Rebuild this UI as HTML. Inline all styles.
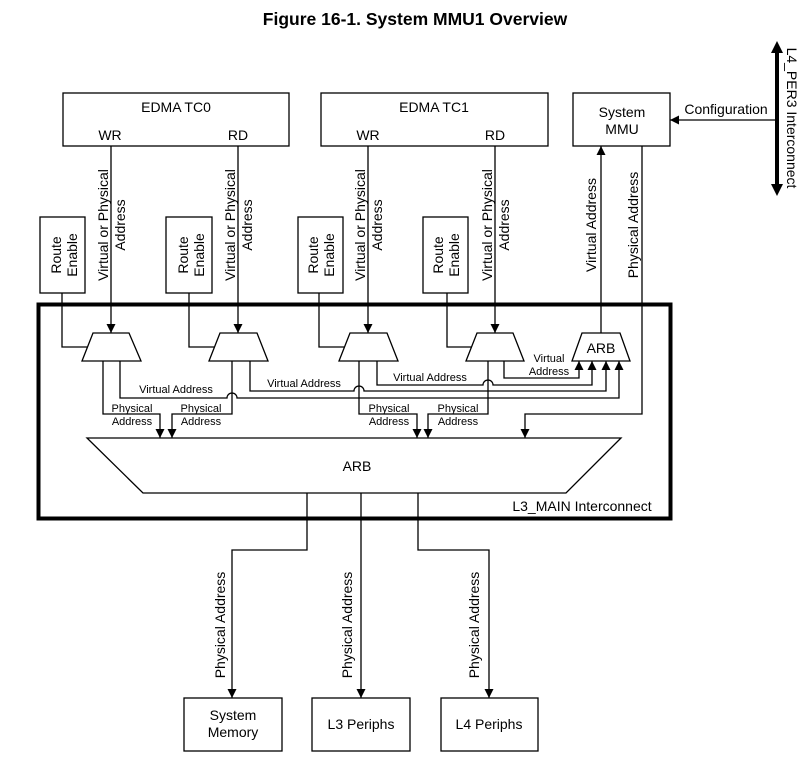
<!DOCTYPE html>
<html><head><meta charset="utf-8"><style>
html,body{margin:0;padding:0;background:#fff}
svg{display:block}
text{font-family:"Liberation Sans",Arial,sans-serif;fill:#000}
</style></head><body>
<svg width="810" height="776" viewBox="0 0 810 776" xmlns="http://www.w3.org/2000/svg">
<defs>
<marker id="a" viewBox="0 0 10 10" refX="10" refY="5" markerWidth="9" markerHeight="9" markerUnits="userSpaceOnUse" orient="auto"><path d="M0,0 L10,5 L0,10 z" fill="#000"/></marker>
</defs>
<text x="415" y="25" font-size="17.5" font-weight="bold" text-anchor="middle">Figure 16-1. System MMU1 Overview</text>

<g fill="none" stroke="#000" stroke-width="1.3">
<rect x="63" y="93" width="226" height="53"/>
<rect x="321" y="93" width="227" height="53"/>
<rect x="573" y="93" width="97" height="53"/>
<rect x="40" y="217" width="45" height="76"/>
<rect x="166" y="217" width="46" height="76"/>
<rect x="298" y="217" width="45" height="76"/>
<rect x="423" y="217" width="45" height="76"/>
<rect x="38.5" y="304.5" width="632" height="214" stroke-width="4"/>
<polygon points="93,333 129,333 141,361 82,361"/>
<polygon points="220,333 257,333 268,361 209,361"/>
<polygon points="350,333 387,333 398,361 339,361"/>
<polygon points="477,333 513,333 524,361 466,361"/>
<polygon points="582,333 620,333 630,361 572,361"/>
<polygon points="87,438 621,438 566,493 143,493"/>
<rect x="184" y="698" width="98" height="53"/>
<rect x="312" y="698" width="98" height="53"/>
<rect x="441" y="698" width="97" height="53"/>

<line x1="111" y1="146" x2="111" y2="333" marker-end="url(#a)"/>
<line x1="238" y1="146" x2="238" y2="333" marker-end="url(#a)"/>
<line x1="368" y1="146" x2="368" y2="333" marker-end="url(#a)"/>
<line x1="495" y1="146" x2="495" y2="333" marker-end="url(#a)"/>
<polyline points="62,293 62,347 87,347"/>
<polyline points="189,293 189,347 214,347"/>
<polyline points="319,293 319,347 344,347"/>
<polyline points="447,293 447,347 471,347"/>
<line x1="601" y1="333" x2="601" y2="146" marker-end="url(#a)"/>
<polyline points="642,146 642,414 525,414 525,438" marker-end="url(#a)"/>
<line x1="777" y1="120" x2="670" y2="120" marker-end="url(#a)"/>

<polyline points="103,361 103,414 160,414 160,438" marker-end="url(#a)"/>
<polyline points="232,361 232,414 172,414 172,438" marker-end="url(#a)"/>
<polyline points="359,361 359,414 417,414 417,438" marker-end="url(#a)"/>
<polyline points="488,361 488,414 428,414 428,438" marker-end="url(#a)"/>
<path d="M120,361 V398 H227 A5,5 0 0 1 237,398 H619 V361" marker-end="url(#a)"/>
<path d="M250,361 V391 H354 A5,5 0 0 1 364,391 H606 V361" marker-end="url(#a)"/>
<path d="M377,361 V385 H483 A5,5 0 0 1 493,385 H592 V361" marker-end="url(#a)"/>
<polyline points="504,361 504,378 579,378 579,361" marker-end="url(#a)"/>

<polyline points="307,493 307,550 232,550 232,698" marker-end="url(#a)"/>
<line x1="361" y1="493" x2="361" y2="698" marker-end="url(#a)"/>
<polyline points="418,493 418,550 489,550 489,698" marker-end="url(#a)"/>
</g>
<line x1="777" y1="52" x2="777" y2="186" stroke="#000" stroke-width="4"/>
<polygon points="777,41 771,53 783,53" fill="#000"/>
<polygon points="777,196 771,184 783,184" fill="#000"/>

<g font-size="14" text-anchor="middle">
<text x="176" y="112">EDMA TC0</text>
<text x="110" y="140">WR</text>
<text x="238" y="140">RD</text>
<text x="434" y="112">EDMA TC1</text>
<text x="368" y="140">WR</text>
<text x="495" y="140">RD</text>
<text x="622" y="117">System</text>
<text x="622" y="134">MMU</text>
<text x="726" y="114">Configuration</text>
<text x="357" y="471">ARB</text>
<text x="601" y="353">ARB</text>
<text x="233" y="720">System</text>
<text x="233" y="737">Memory</text>
<text x="361" y="729">L3 Periphs</text>
<text x="489" y="729">L4 Periphs</text>
<text x="582" y="511">L3_MAIN Interconnect</text>
</g>

<g font-size="14" text-anchor="middle">
<text transform="translate(61,255) rotate(-90)">Route</text>
<text transform="translate(77,255) rotate(-90)">Enable</text>
<text transform="translate(188,255) rotate(-90)">Route</text>
<text transform="translate(204,255) rotate(-90)">Enable</text>
<text transform="translate(318,255) rotate(-90)">Route</text>
<text transform="translate(334,255) rotate(-90)">Enable</text>
<text transform="translate(443,255) rotate(-90)">Route</text>
<text transform="translate(459,255) rotate(-90)">Enable</text>

<text transform="translate(108,225) rotate(-90)">Virtual or Physical</text>
<text transform="translate(125,225) rotate(-90)">Address</text>
<text transform="translate(235,225) rotate(-90)">Virtual or Physical</text>
<text transform="translate(252,225) rotate(-90)">Address</text>
<text transform="translate(365,225) rotate(-90)">Virtual or Physical</text>
<text transform="translate(382,225) rotate(-90)">Address</text>
<text transform="translate(492,225) rotate(-90)">Virtual or Physical</text>
<text transform="translate(509,225) rotate(-90)">Address</text>

<text transform="translate(596,225) rotate(-90)">Virtual Address</text>
<text transform="translate(638,225) rotate(-90)">Physical Address</text>
<text transform="translate(787,118) rotate(90)">L4_PER3 Interconnect</text>

<text transform="translate(225,625) rotate(-90)">Physical Address</text>
<text transform="translate(352,625) rotate(-90)">Physical Address</text>
<text transform="translate(479,625) rotate(-90)">Physical Address</text>
</g>

<g font-size="11" text-anchor="middle">
<text x="176" y="393">Virtual Address</text>
<text x="304" y="387">Virtual Address</text>
<text x="430" y="381">Virtual Address</text>
<text x="549" y="362">Virtual</text>
<text x="549" y="375">Address</text>
<text x="132" y="412">Physical</text>
<text x="132" y="425">Address</text>
<text x="201" y="412">Physical</text>
<text x="201" y="425">Address</text>
<text x="389" y="412">Physical</text>
<text x="389" y="425">Address</text>
<text x="458" y="412">Physical</text>
<text x="458" y="425">Address</text>
</g>
</svg>
</body></html>
